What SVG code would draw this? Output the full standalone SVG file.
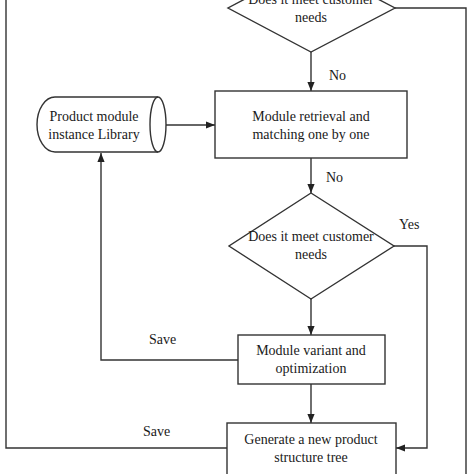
<svg xmlns="http://www.w3.org/2000/svg" width="474" height="474" viewBox="0 0 474 474">
<defs>
<marker id="arr" viewBox="0 0 10 10" refX="10" refY="5" markerWidth="9" markerHeight="9" markerUnits="userSpaceOnUse" orient="auto">
<path d="M0,1 L10,5 L0,9 Z" fill="#222"/>
</marker>
<style>
.s{fill:#fff;stroke:#333;stroke-width:1.4}
.c{fill:none;stroke:#333;stroke-width:1.4}
text{font-family:"Liberation Serif","Times New Roman",serif;font-size:14px;fill:#1a1a1a;text-anchor:middle}
.l{text-anchor:start}
</style>
</defs>
<rect width="474" height="474" fill="#fff"/>
<g id="connectors">
<path class="c" d="M395,8 L466,8 L466,474"/>
<path class="c" d="M311,52 L311,91" marker-end="url(#arr)"/>
<path class="c" d="M166,125 L215,125" marker-end="url(#arr)"/>
<path class="c" d="M311,158 L311,193" marker-end="url(#arr)"/>
<path class="c" d="M394,246 L427,246 L427,448 L396,448" marker-end="url(#arr)"/>
<path class="c" d="M311,299 L311,335" marker-end="url(#arr)"/>
<path class="c" d="M238,360 L101,360 L101,153" marker-end="url(#arr)"/>
<path class="c" d="M311,384 L311,423" marker-end="url(#arr)"/>
<path class="c" d="M227,448 L6,448 L6,0"/>
<text class="l" x="329" y="80">No</text>
<text class="l" x="326" y="182">No</text>
<text class="l" x="399" y="229">Yes</text>
<text class="l" x="149" y="344">Save</text>
<text class="l" x="143" y="436">Save</text>
</g>
<g id="decision1">
<polygon class="s" points="311,-36 395,8 311,52 228,8"/>
<text x="311" y="4">Does it meet customer</text>
<text x="311" y="22">needs</text>
</g>
<g id="library">
<path class="s" d="M55,97 L158,97 A8,27.5 0 0 1 158,152 L55,152 A18,27.5 0 0 1 55,97 Z"/>
<path class="c" d="M158,97 A8,27.5 0 0 0 158,152"/>
<text x="94" y="121">Product module</text>
<text x="94" y="139">instance Library</text>
</g>
<g id="retrieval">
<rect class="s" x="215" y="91" width="192" height="67"/>
<text x="311" y="121">Module retrieval and</text>
<text x="311" y="139">matching one by one</text>
</g>
<g id="decision2">
<polygon class="s" points="311,193 394,246 311,299 229,246"/>
<text x="311" y="241">Does it meet customer</text>
<text x="311" y="259">needs</text>
</g>
<g id="variant">
<rect class="s" x="238" y="335" width="147" height="49"/>
<text x="311" y="355">Module variant and</text>
<text x="311" y="373">optimization</text>
</g>
<g id="generate">
<rect class="s" x="227" y="423" width="169" height="60"/>
<text x="311" y="444">Generate a new product</text>
<text x="311" y="462">structure tree</text>
</g>
</svg>
